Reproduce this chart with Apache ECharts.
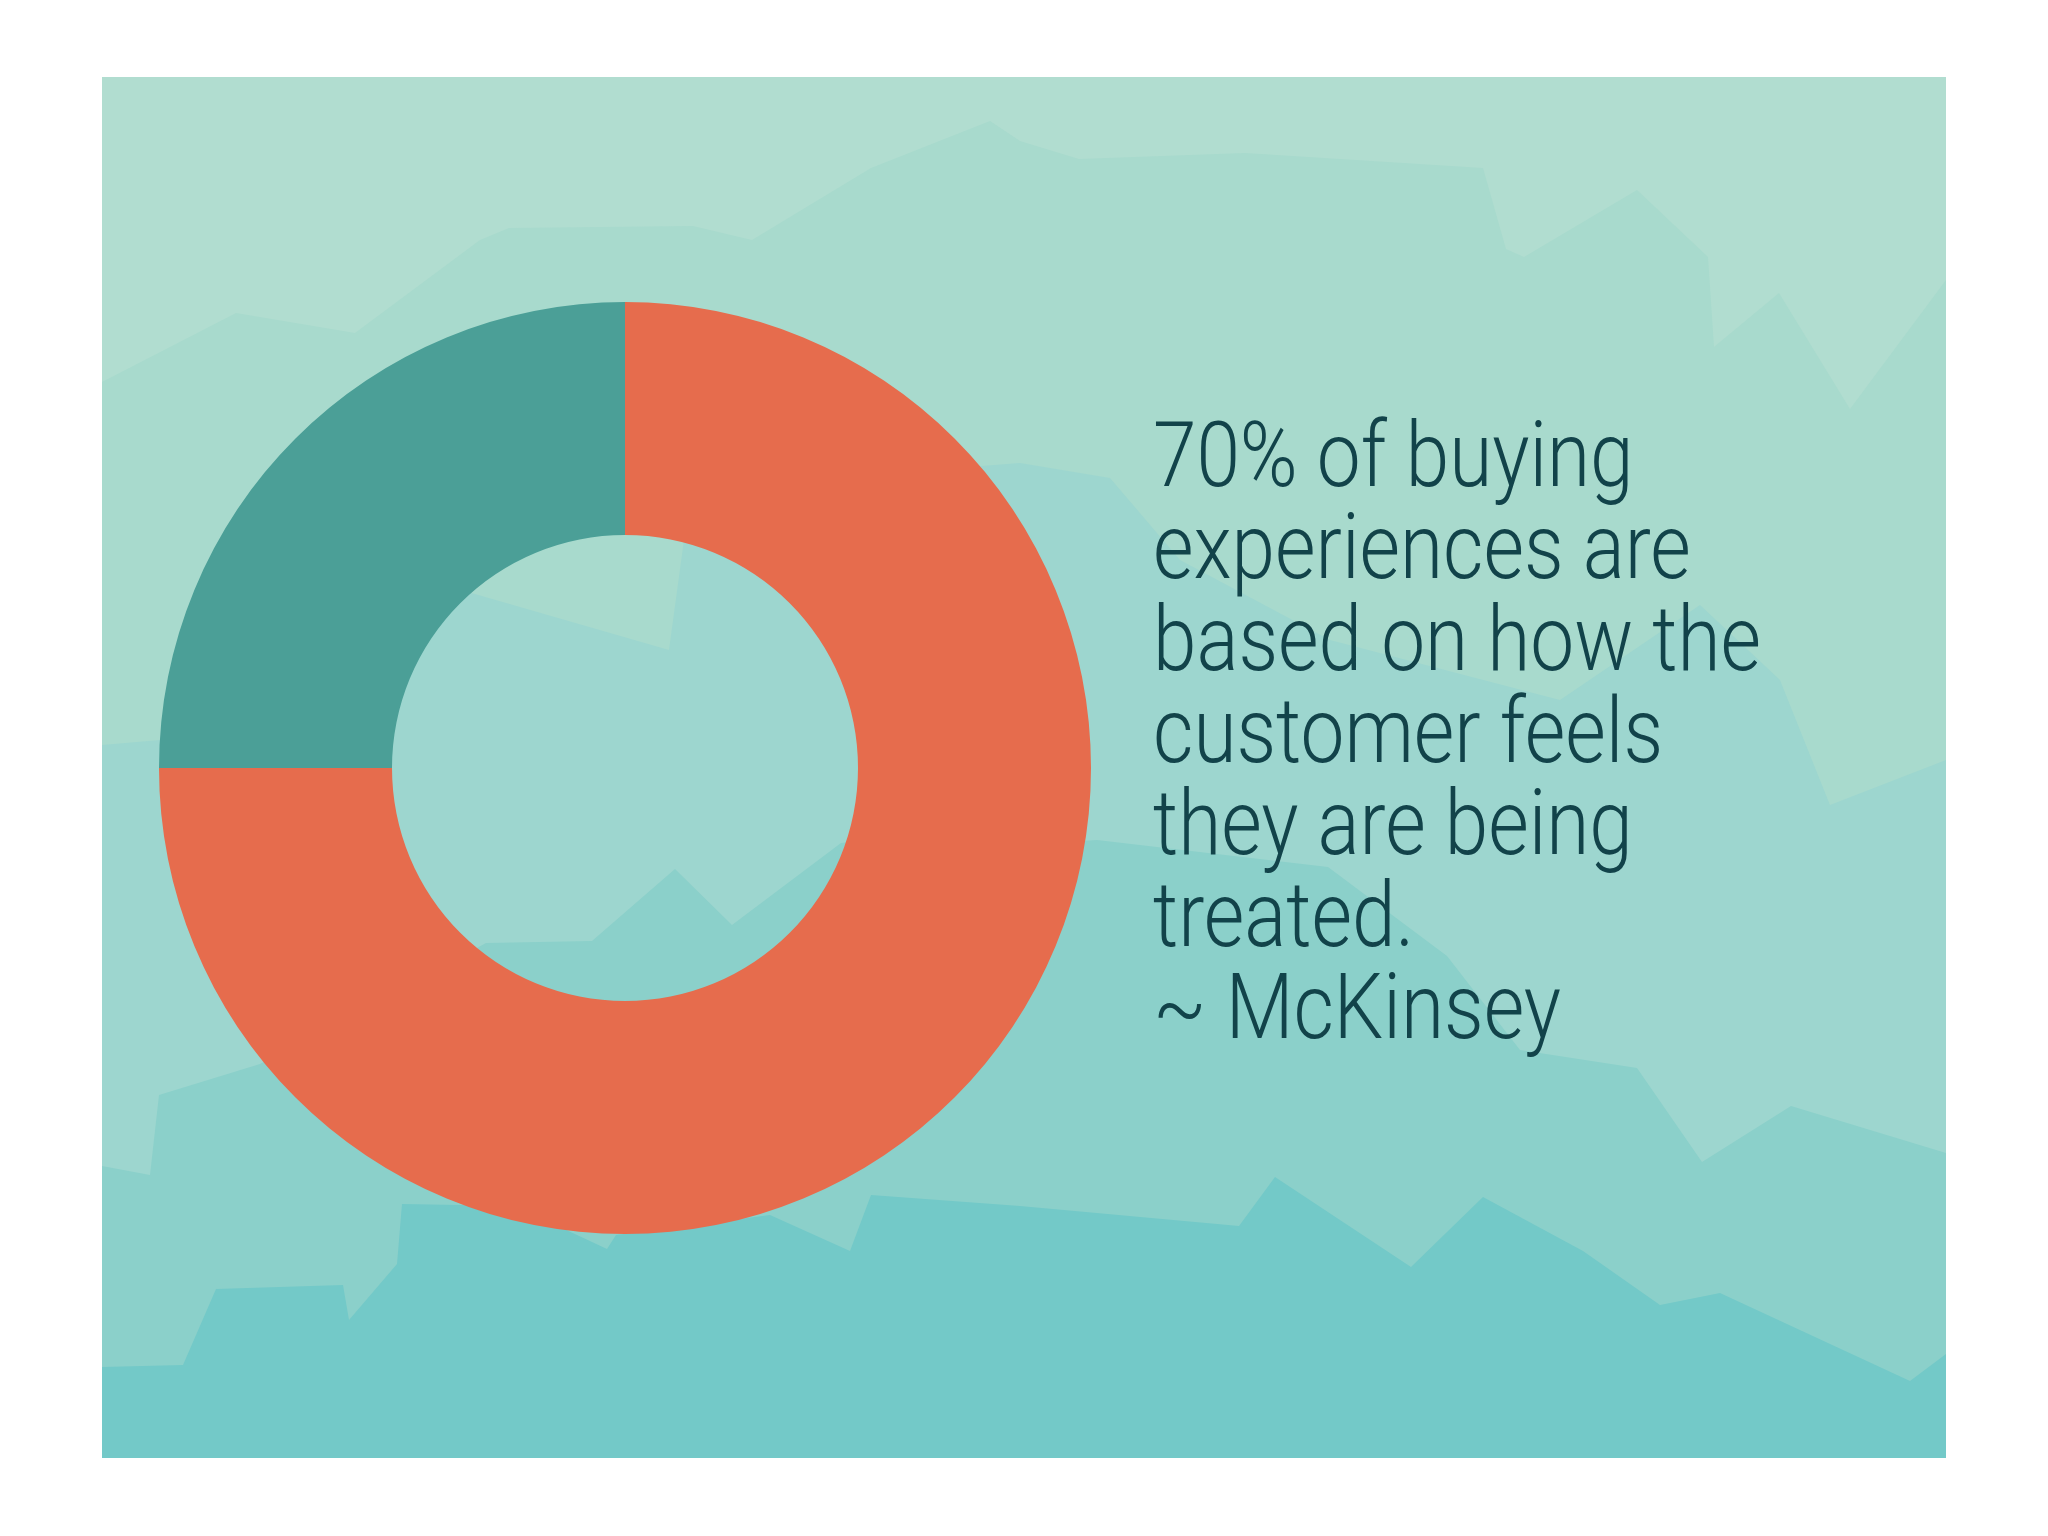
<!DOCTYPE html>
<html>
<head>
<meta charset="utf-8">
<title>Buying experiences</title>
<script src="https://cdn.jsdelivr.net/npm/echarts@6/dist/echarts.min.js"></script>
<style>
  html, body { margin: 0; padding: 0; background: #ffffff; }
  #chart { width: 2048px; height: 1536px; }
</style>
</head>
<body>
<div id="chart"></div>
<script>
// data
const sliceNames = ['Based on treatment', 'Other'];
const sliceValues = [75, 25];
const sliceColors = ['#E66C4D', '#4B9F97'];

const quoteLines = [
  '70% of buying',
  'experiences are',
  'based on how the',
  'customer feels',
  'they are being',
  'treated.',
  '~ McKinsey'
];

// card + background "mountain" layers (decoration only)
const card = { x: 102, y: 77, w: 1844, h: 1381 };
const bottom = card.y + card.h;

const layers = [
  { color: '#A8DACD', edge: [[102,382],[236,313],[355,333],[480,240],[509,228],[693,226],[752,240],[871,168],[990,121],[1020,141],[1079,159],[1245,153],[1483,168],[1506,249],[1524,257],[1637,190],[1708,257],[1714,347],[1779,293],[1850,409],[1946,280]] },
  { color: '#9DD6CF', edge: [[102,745],[160,740],[300,690],[400,582],[468,592],[669,650],[684,540],[800,480],[1020,463],[1110,478],[1180,560],[1330,640],[1560,700],[1700,605],[1780,680],[1830,805],[1946,760]] },
  { color: '#8BD0CA', edge: [[102,1166],[150,1175],[159,1095],[260,1064],[400,990],[486,943],[592,941],[675,869],[732,925],[841,843],[950,830],[1020,845],[1097,840],[1328,867],[1447,956],[1520,1050],[1637,1068],[1702,1162],[1791,1106],[1946,1153]] },
  { color: '#73C9C8', edge: [[102,1367],[183,1365],[216,1289],[343,1285],[349,1320],[397,1264],[402,1204],[515,1206],[607,1249],[616,1235],[770,1215],[850,1251],[871,1195],[1020,1206],[1239,1226],[1275,1177],[1411,1267],[1483,1197],[1583,1251],[1660,1305],[1720,1293],[1910,1381],[1946,1354]] }
];

const chart = echarts.init(document.getElementById('chart'));

const graphics = [
  {
    type: 'rect',
    z: 0,
    shape: { x: card.x, y: card.y, width: card.w, height: card.h },
    style: { fill: '#B1DDD0' }
  }
];

layers.forEach(function (l) {
  const pts = l.edge.slice();
  pts.push([card.x + card.w, bottom]);
  pts.push([card.x, bottom]);
  graphics.push({
    type: 'polygon',
    z: 0,
    shape: { points: pts },
    style: { fill: l.color }
  });
});

// quote text: the original face is a narrow one, so squeeze a light sans horizontally
const fontSize = 90;
const lineGap = 92;
const textFont = '300 ' + fontSize + 'px Roboto, "Liberation Sans", sans-serif';
const ctx = document.createElement('canvas').getContext('2d');
ctx.font = textFont;
const widest = ctx.measureText('based on how the').width;
const squeeze = 608 / widest;

quoteLines.forEach(function (line, i) {
  graphics.push({
    type: 'text',
    z: 100,
    x: 1153,
    y: 493 + i * lineGap - fontSize * 0.33,
    scaleX: squeeze,
    style: {
      text: line,
      font: textFont,
      fill: '#12434A',
      align: 'left',
      verticalAlign: 'middle'
    }
  });
});

chart.setOption({
  backgroundColor: '#ffffff',
  animation: false,
  graphic: graphics,
  series: [
    {
      type: 'pie',
      z: 5,
      radius: [233, 466],
      center: [625, 768],
      startAngle: 90,
      clockwise: true,
      silent: true,
      label: { show: false },
      labelLine: { show: false },
      itemStyle: { borderWidth: 0 },
      emphasis: { scale: false },
      data: sliceNames.map(function (n, i) {
        return { name: n, value: sliceValues[i], itemStyle: { color: sliceColors[i] } };
      })
    }
  ]
});
</script>
</body>
</html>
